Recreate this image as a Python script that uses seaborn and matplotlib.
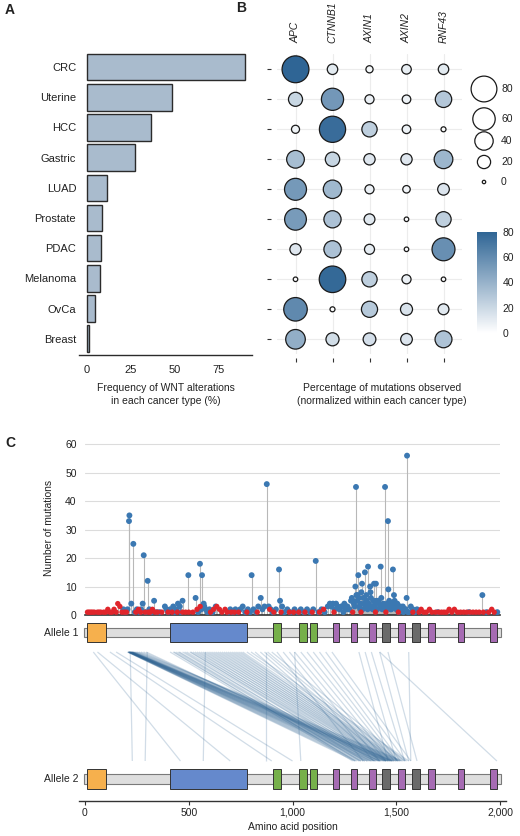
import matplotlib
matplotlib.use('Agg')
import matplotlib.pyplot as plt
from matplotlib.colors import LinearSegmentedColormap, Normalize
from matplotlib.cm import ScalarMappable
from matplotlib.patches import Rectangle
from matplotlib.collections import LineCollection
from matplotlib.ticker import FuncFormatter
from matplotlib.transforms import blended_transform_factory
import numpy as np
import pandas as pd
import seaborn as sns

# ---- panel A: WNT alteration frequency ----
cancer_types = ['CRC', 'Uterine', 'HCC', 'Gastric', 'LUAD', 'Prostate',
                'PDAC', 'Melanoma', 'OvCa', 'Breast']
wnt_freq = [90, 48.5, 36.5, 27.5, 11.5, 8.5, 8, 7.5, 4.5, 1.5]

# ---- panel B: % of mutations per gene (rows follow cancer_types) ----
genes = ['APC', 'CTNNB1', 'AXIN1', 'AXIN2', 'RNF43']
pct_APC = [80, 21, 6, 34, 53, 52, 13, 1, 61, 42]
pct_CTNNB1 = [11, 54, 76, 22, 37, 32, 32, 78, 1.5, 18]
pct_AXIN1 = [4.5, 8, 25, 13, 8, 12, 10, 25, 28, 17]
pct_AXIN2 = [9, 7, 7, 13, 5, 1, 1, 8, 15, 14]
pct_RNF43 = [11, 29, 1.5, 38, 14, 25, 58, 1, 12, 31]
legend_vals = [80, 60, 40, 20, 0]

# ---- panel C: APC mutations ----
blue_pos = [212, 214, 223, 233, 278, 283, 302, 333, 457, 470, 498, 533, 554, 564, 575,
            803, 847, 876, 935, 940, 1112, 1306, 1446, 1460, 1552, 1550, 1462, 1484, 1489,
            1425, 1364, 1349, 1317, 1335, 1303, 1374, 1393, 1402, 1376, 1378, 1314, 1320,
            1342, 1404, 1413, 1915, 1935, 1987,
            185, 195, 205, 240, 250, 262, 270, 292, 310, 320, 345, 360,
            385, 392, 400, 410, 425, 432, 440, 448, 462,
            545, 560, 572, 582, 590, 600, 615, 630,
            690, 700, 712, 725, 735, 748, 760, 772, 785, 795, 812, 825, 835, 855, 865, 885, 895,
            905, 920, 950, 960, 975, 990, 1010, 1025, 1040, 1055, 1070, 1085, 1100, 1125, 1140,
            1155, 1170, 1180, 1188, 1195, 1202, 1210, 1218, 1225, 1235, 1245, 1255, 1265, 1275,
            1282, 1290, 1296, 1300, 1308, 1312, 1322, 1328, 1332, 1338, 1345, 1352, 1358, 1362,
            1368, 1382, 1386, 1390, 1396, 1408, 1418, 1422, 1432, 1438, 1442, 1452, 1466, 1470,
            1476, 1480, 1495, 1500, 1505, 1512, 1520, 1528, 1535, 1542, 1560, 1570, 1580, 1590,
            1600, 1700, 1850,
            1240, 1250, 1260, 1270, 1286, 1326, 1356, 1372, 1398, 1428, 1448, 1456, 1472, 1492,
            1516, 1532, 1546, 1556]
blue_count = [33, 35, 4, 25, 4, 21, 12, 5, 3, 5, 14, 6, 18, 14, 3,
              14, 6, 46, 16, 5, 19, 45, 45, 33, 56, 6, 9, 16, 7,
              17, 17, 15, 14, 11, 10, 10, 11, 11, 8, 6, 7, 6,
              6, 5, 5, 7, 1, 1,
              2, 1, 2, 1, 2, 1, 2, 1, 2, 1, 1, 1,
              3, 2, 1, 2, 3, 1, 2, 4, 1,
              1, 2, 4, 2, 1, 2, 1, 3,
              1, 2, 1, 2, 1, 2, 3, 1, 2, 1, 2, 1, 3, 2, 3, 3, 2,
              1, 2, 3, 1, 2, 1, 2, 1, 2, 1, 2, 1, 2, 1, 2,
              1, 3, 4, 3, 4, 2, 4, 3, 2, 3, 1, 2, 3, 2,
              5, 5, 4, 3, 7, 5, 3, 4, 8, 2, 4, 3, 5, 2,
              4, 3, 2, 5, 3, 2, 4, 3, 2, 4, 3, 2, 5, 3,
              2, 4, 3, 2, 4, 1, 3, 2, 1, 2, 1, 3, 2, 1,
              2, 1, 1,
              3, 4, 3, 2, 6, 2, 7, 3, 4, 6, 3, 4, 2, 5,
              2, 3, 2, 1]
red_pos = [12, 20, 28, 36, 45, 60, 68, 76, 90, 100, 110, 120, 130, 140, 150, 158, 168, 178,
           190, 200, 245, 258, 268, 290, 305, 315, 325, 338, 350, 370, 400, 420, 445, 470,
           485, 500, 520, 540, 555, 605, 620, 635, 648, 660, 675, 685, 705, 720, 740, 780,
           830, 890, 910, 945, 985, 1005, 1030, 1060, 1095, 1130, 1150, 1200, 1290, 1330,
           1400, 1450, 1510, 1580, 1610, 1620, 1632, 1645, 1660, 1672, 1690, 1705, 1718,
           1730, 1742, 1755, 1768, 1780, 1795, 1810, 1825, 1840, 1855, 1870, 1885, 1900,
           1920, 1945, 1960, 1972]
red_count = [1, 1, 1, 1, 1, 1, 1, 1, 1, 1, 2, 1, 1, 2, 1, 4, 3, 1,
             1, 1, 1, 2, 1, 1, 1, 1, 2, 1, 1, 1, 1, 1, 1, 1,
             1, 1, 1, 2, 3, 1, 2, 3, 2, 1, 2, 1, 1, 1, 1, 1,
             1, 2, 1, 1, 1, 1, 1, 1, 1, 1, 2, 1, 1, 1,
             1, 1, 1, 1, 1, 2, 1, 1, 2, 1, 1, 1, 1,
             1, 1, 2, 1, 2, 1, 1, 1, 1, 1, 1, 1, 1,
             1, 1, 2, 1]

# protein domains
domain_start = [12, 411, 908, 1033, 1083, 1195, 1282, 1370, 1430, 1510, 1576, 1655, 1796, 1953]
domain_end = [100, 782, 943, 1068, 1118, 1226, 1312, 1401, 1471, 1541, 1616, 1685, 1827, 1984]
domain_type = ['oligo', 'arm', 'r15', 'r15', 'r15', 'r20', 'r20', 'r20', 'samp', 'r20',
               'samp', 'r20', 'r20', 'r20']

# position on allele 1 -> position on allele 2
allele1_pos = [205, 207, 209, 210, 211, 212, 213, 214, 215, 216, 217, 218, 220, 221, 223, 225,
               227, 229, 232, 236, 240, 246, 252, 260, 270, 282, 295,
               206, 208, 211, 213, 215, 219, 222, 226, 230,
               410, 425, 440, 455, 470, 490, 505, 520, 540, 560, 580, 600, 620, 640, 660, 680,
               700, 720, 740, 760, 780, 800, 820, 845, 865, 880, 900,
               430, 450, 480, 510, 530, 550, 570, 590, 610, 630, 650, 670, 690, 710, 730, 750,
               925, 955, 985, 1010, 1040, 1070, 1100, 1130, 1160, 1190,
               1320, 1350, 1380, 1420, 1460, 218, 300, 580, 870, 1010, 40, 1420, 1560,
               60, 120, 150]
allele2_pos = [1300, 1320, 1340, 1350, 1365, 1375, 1385, 1395, 1405, 1415, 1425, 1435, 1445,
               1450, 1458, 1465, 1470, 1478, 1485, 1490, 1500, 1510, 1520, 1530, 1480, 1450, 1420,
               1310, 1330, 1360, 1380, 1400, 1420, 1440, 1460, 1475,
               1290, 1305, 1325, 1345, 1360, 1380, 1395, 1410, 1425, 1440, 1450, 1460, 1470,
               1480, 1490, 1500, 1510, 1520, 1530, 1540, 1550, 1560, 1420, 1450, 1480, 1510, 1540,
               1300, 1330, 1350, 1370, 1390, 1400, 1415, 1430, 1445, 1455, 1465, 1475, 1485,
               1495, 1505, 1515,
               1340, 1390, 1420, 1450, 1470, 1490, 1505, 1520, 1545, 1570,
               1460, 1500, 1540, 1560, 1600, 228, 290, 570, 870, 1040, 460, 1985, 1570,
               700, 900, 1000]

sns.set_theme(style='white')
plt.rcParams['font.family'] = ['Liberation Sans', 'DejaVu Sans']
for k in ['text.color', 'axes.labelcolor', 'xtick.color', 'ytick.color']:
    plt.rcParams[k] = '#222222'

W, H = 520, 836
fig = plt.figure(figsize=(W / 100, H / 100), dpi=100)


def px_axes(left, top, right, bottom):
    return fig.add_axes([left / W, 1 - bottom / H, (right - left) / W, (bottom - top) / H])


dark = '#2b2b2b'
cmap = LinearSegmentedColormap.from_list('wb', ['#ffffff', '#2f6595'])

# ---------------- A ----------------
axA = px_axes(79, 52, 252, 355)
sns.barplot(x=wnt_freq, y=cancer_types, orient='h', color='#a9bbcd', saturation=1,
            edgecolor=dark, linewidth=1, width=0.88, ax=axA)
axA.set_xlim(-4.4, 94.2)
axA.set_ylim(9.54, -0.5)
axA.set_xticks([0, 25, 50, 75])
for s in ['left', 'top', 'right']:
    axA.spines[s].set_visible(False)
axA.spines['bottom'].set_color(dark)
axA.spines['bottom'].set_linewidth(1)
axA.tick_params(axis='y', length=0, pad=2, labelsize=8)
axA.tick_params(axis='x', length=0, pad=7, labelsize=8)
axA.set_xlabel('')
axA.set_ylabel('')
fig.text(166 / W, 1 - 383 / H, 'Frequency of WNT alterations\nin each cancer type (%)',
         ha='center', va='top', fontsize=7.5, linespacing=1.35)

# ---------------- B ----------------
rows = []
pct = {'APC': pct_APC, 'CTNNB1': pct_CTNNB1, 'AXIN1': pct_AXIN1,
       'AXIN2': pct_AXIN2, 'RNF43': pct_RNF43}
for i, c in enumerate(cancer_types):
    for g in genes:
        rows.append((c, g, pct[g][i]))
df_b = pd.DataFrame(rows, columns=['cancer', 'gene', 'pct'])

size_range = (6, 374)
axB = px_axes(277, 54.3, 462, 354.3)
sns.scatterplot(data=df_b, x='gene', y='cancer', hue='pct', size='pct', palette=cmap,
                hue_norm=(0, 80), sizes=size_range, size_norm=(0, 80),
                edgecolor='#1a1a1a', linewidth=0.9, legend=False, ax=axB, zorder=3)
axB.set_xlim(-0.5, 4.5)
axB.set_ylim(9.5, -0.5)
axB.grid(True, color='#ececec', lw=0.8)
axB.set_axisbelow(True)
for s in axB.spines.values():
    s.set_visible(False)
axB.spines['left'].set_position(('outward', 4))
axB.spines['bottom'].set_position(('outward', 3))
axB.tick_params(axis='both', left=True, bottom=True, length=3, width=0.8, color='#333333',
                labelleft=False, labelbottom=False)
axB.set_xlabel('')
axB.set_ylabel('')
tr = blended_transform_factory(axB.transData, axB.transAxes)
for i, g in enumerate(genes):
    axB.text(i, 1.037, g, transform=tr, rotation=90, ha='center', va='bottom',
             fontsize=7.5, style='italic')
fig.text(382 / W, 1 - 383 / H, 'Percentage of mutations observed\n(normalized within each cancer type)',
         ha='center', va='top', fontsize=7.5, linespacing=1.35)

# size legend
axL = px_axes(466, 70, 520, 195)
axL.set_xlim(466, 520)
axL.set_ylim(195, 70)
axL.axis('off')
legend_y = [89, 119, 141, 162, 182]
leg_s = [size_range[0] + (size_range[1] - size_range[0]) * v / 80 * 0.92 for v in legend_vals]
axL.scatter([484] * len(legend_vals), legend_y, s=leg_s, facecolor='white',
            edgecolor='#1a1a1a', linewidth=0.9)
for v, y in zip(legend_vals, legend_y):
    axL.text(501, y, str(v), va='center', ha='left', fontsize=7.5)

# colorbar
cax = px_axes(477, 232, 497, 333)
cb = fig.colorbar(ScalarMappable(Normalize(0, 80), cmap), cax=cax, ticks=[0, 20, 40, 60, 80])
cb.outline.set_visible(False)
cax.tick_params(left=True, right=True, direction='in', length=4, width=1, color='white',
                labelsize=7.5, pad=4)

# ---------------- C ----------------
axC = px_axes(85, 440, 500, 615)
axC.vlines(blue_pos, 0, blue_count, color='#b8b8b8', lw=0.8, zorder=1)
axC.vlines(red_pos, 0, red_count, color='#b8b8b8', lw=0.8, zorder=1)
sns.scatterplot(x=blue_pos, y=blue_count, color='#3b78b2', s=18, edgecolor='none',
                ax=axC, zorder=3, clip_on=False)
sns.scatterplot(x=red_pos, y=red_count, color='#e0252b', s=15, edgecolor='none',
                ax=axC, zorder=4, clip_on=False)
axC.set_xlim(0, 2000)
axC.set_ylim(0, 61.5)
axC.set_yticks(range(0, 61, 10))
axC.set_xticks([])
axC.yaxis.grid(True, color='#dcdcdc', lw=0.8)
axC.set_axisbelow(True)
for s in ['left', 'top', 'right']:
    axC.spines[s].set_visible(False)
axC.spines['bottom'].set_color('#333333')
axC.spines['bottom'].set_linewidth(1.2)
axC.spines['bottom'].set_zorder(2)
axC.tick_params(axis='y', length=0, pad=6, labelsize=7.5)
axC.set_ylabel('Number of mutations', fontsize=7.5, labelpad=8)

# tracks + connections
axT = px_axes(79, 616, 506, 801)
axT.set_xlim(-28.9, 2028.9)
axT.set_ylim(801, 616)
segs = [[(a, 652), (b, 761)] for a, b in zip(allele1_pos, allele2_pos)]
axT.add_collection(LineCollection(segs, colors='#2e6392', alpha=0.22, lw=0.9))

dom_color = {'oligo': '#f6b04d', 'arm': '#6589cc', 'r15': '#76b04a',
             'r20': '#a66bb3', 'samp': '#6a6a6a'}
for yc, lab in [(632.7, 'Allele 1'), (779, 'Allele 2')]:
    axT.add_patch(Rectangle((-6, yc - 4.75), 2010, 9.5, facecolor='#dedede',
                            edgecolor='#7a7a7a', lw=0.8))
    for a, b, t in zip(domain_start, domain_end, domain_type):
        axT.add_patch(Rectangle((a, yc - 9.7), b - a, 19.4, facecolor=dom_color[t],
                                edgecolor='#333333', lw=0.7))
    axT.text(-33, yc, lab, ha='right', va='center', fontsize=7.5)

for s in ['left', 'top', 'right']:
    axT.spines[s].set_visible(False)
axT.spines['bottom'].set_color('#333333')
axT.spines['bottom'].set_linewidth(1)
axT.set_yticks([])
axT.set_xticks([0, 500, 1000, 1500, 2000])
axT.xaxis.set_major_formatter(FuncFormatter(lambda v, _: f'{int(v):,}'))
axT.tick_params(axis='x', bottom=True, length=3, width=0.8, color='#333333', pad=2,
                labelsize=7.5)
axT.set_xlabel('Amino acid position', fontsize=7.5, labelpad=3)

# panel letters
for x, y, t in [(5, 3, 'A'), (236, 1, 'B'), (5, 436, 'C')]:
    fig.text(x / W, 1 - y / H, t, ha='left', va='top', fontsize=10, weight='bold')

fig.savefig('out.png', dpi=100)
